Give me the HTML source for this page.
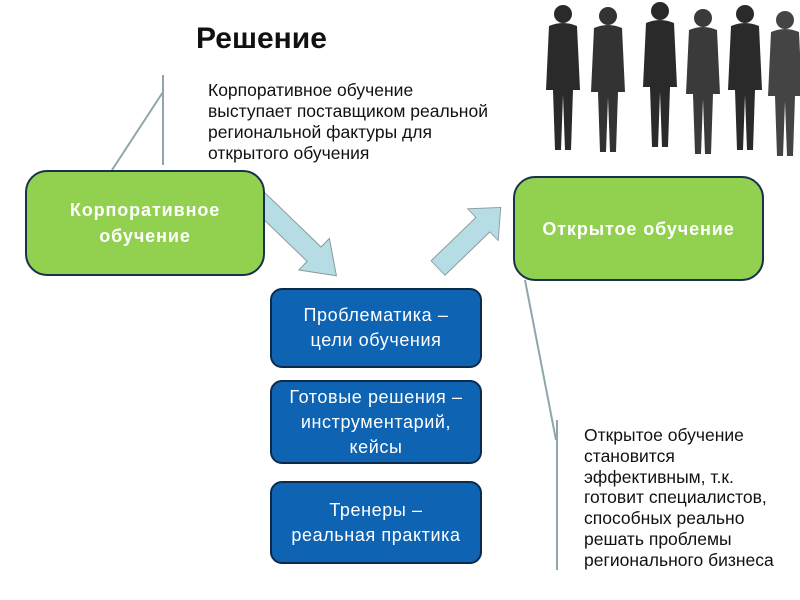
<!DOCTYPE html>
<html><head><meta charset="utf-8"><style>
body{margin:0;width:800px;height:600px;background:#fff;position:relative;overflow:hidden;font-family:"Liberation Sans",sans-serif}
.t{position:absolute}
.g{position:absolute;background:#92d050;border:2px solid #17314f;border-radius:22px;color:#fff;font-weight:bold;font-size:18px;letter-spacing:0.9px;display:flex;align-items:center;justify-content:center;text-align:center;line-height:26px;box-sizing:border-box}
.b{position:absolute;background:#0e63b3;border:2px solid #0d2a4a;border-radius:12px;color:#fff;font-size:18px;letter-spacing:0.6px;display:flex;align-items:center;justify-content:center;text-align:center;line-height:25px;box-sizing:border-box;left:270px;width:212px}
</style></head><body>
<div class="t" style="left:196px;top:22px;font-size:30px;font-weight:bold;color:#111">Решение</div>
<div class="t" style="left:208px;top:80px;font-size:17.5px;line-height:21px;color:#111">Корпоративное обучение<br>выступает поставщиком реальной<br>региональной фактуры для<br>открытого обучения</div>
<div class="t" style="left:584px;top:425px;font-size:17.5px;line-height:20.8px;color:#111">Открытое обучение<br>становится<br>эффективным, т.к.<br>готовит специалистов,<br>способных реально<br>решать проблемы<br>регионального бизнеса</div>
<svg class="t" style="left:0;top:0" width="800" height="600">
<defs><g id="p"><circle cx="0" cy="14" r="9"/><path d="M-14,26 Q0,20 14,26 L17,90 L10,90 L8,150 L2,150 L0,95 L-2,150 L-8,150 L-10,90 L-17,90 Z"/></g>
<polygon id="ar" points="0,-10 78,-10 78,-22 109,0 78,22 78,10 0,10"/></defs>
<g stroke="#8fa6ad" stroke-width="2" fill="none">
<line x1="163" y1="75" x2="163" y2="165"/><line x1="163" y1="92" x2="112" y2="170"/>
<line x1="525" y1="280" x2="556" y2="440"/><line x1="557" y1="420" x2="557" y2="570"/>
</g>
<g fill="#b7dde4" stroke="#8a9aa0" stroke-width="1">
<use href="#ar" transform="translate(258,200) rotate(44)"/>
<use href="#ar" transform="translate(438,268) rotate(-44) scale(0.8,1)"/>
</g>
<g fill="#2a2a2a">
<use href="#p" transform="translate(563,0)"/>
<use href="#p" transform="translate(608,2)" fill="#333"/>
<use href="#p" transform="translate(660,-3)"/>
<use href="#p" transform="translate(703,4)" fill="#3a3a3a"/>
<use href="#p" transform="translate(745,0)"/>
<use href="#p" transform="translate(785,6)" fill="#444"/>
</g>
</svg>
<div class="g" style="left:25px;top:170px;width:240px;height:106px">Корпоративное<br>обучение</div>
<div class="g" style="left:513px;top:176px;width:251px;height:105px">Открытое обучение</div>
<div class="b" style="top:288px;height:80px">Проблематика –<br>цели обучения</div>
<div class="b" style="top:380px;height:84px">Готовые решения –<br>инструментарий,<br>кейсы</div>
<div class="b" style="top:481px;height:83px">Тренеры –<br>реальная практика</div>
</body></html>
